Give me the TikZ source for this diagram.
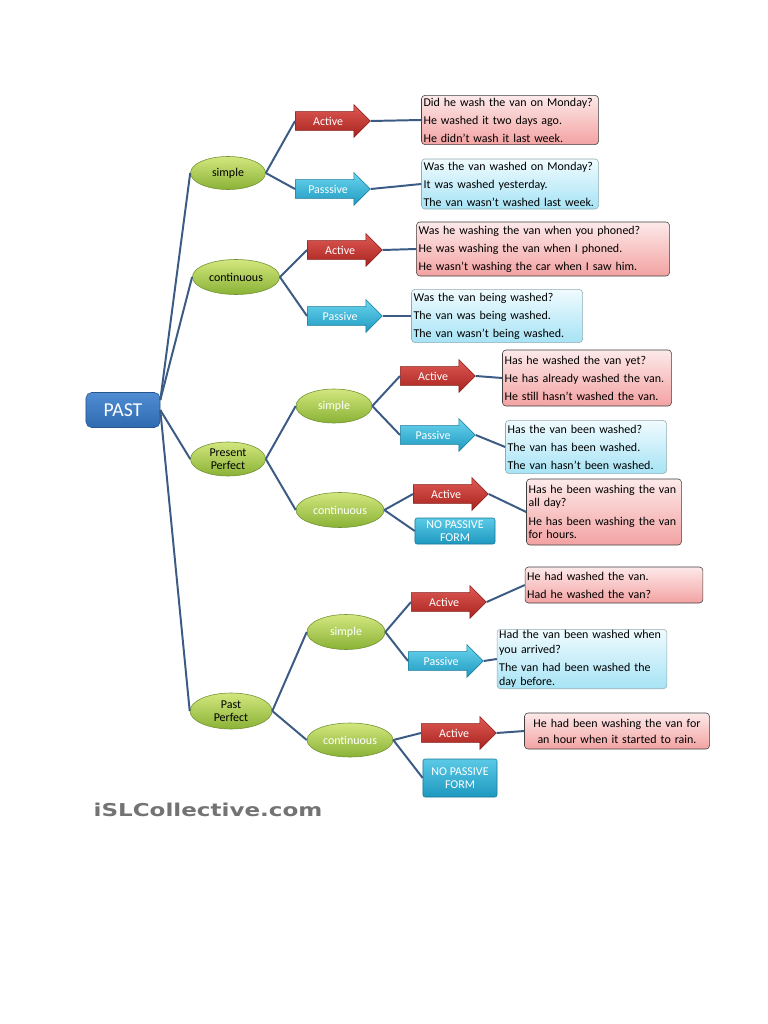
\documentclass[tikz,border=0pt]{standalone}
\usepackage{fontspec}
\setmainfont{Carlito}
\newfontfamily\markfont{DejaVu Sans}
\usetikzlibrary{shapes.geometric,shapes.arrows}

\definecolor{linkblue}{HTML}{3B5B84}
\definecolor{pasttop}{HTML}{4F8DD3}
\definecolor{pastbot}{HTML}{2F6AB0}
\definecolor{greentop}{HTML}{D2E77E}
\definecolor{greenbot}{HTML}{8AB236}
\definecolor{greenline}{HTML}{6F9130}
\definecolor{redtop}{HTML}{DF5A55}
\definecolor{redbot}{HTML}{A8221E}
\definecolor{bluetop}{HTML}{6AD6F0}
\definecolor{bluebot}{HTML}{1E98BF}
\definecolor{pinktop}{HTML}{FDE9E9}
\definecolor{pinkbot}{HTML}{F3A2A2}
\definecolor{skytop}{HTML}{F0FBFE}
\definecolor{skybot}{HTML}{A6E3F5}

\tikzset{
	link/.style={draw=linkblue, line width=1.4pt},
	past/.style={rectangle, rounded corners=4pt, draw=pastbot!80!black, top color=pasttop, bottom color=pastbot,
		text=white, font=\fontsize{14}{14}\selectfont, minimum width=1.85cm, minimum height=0.875cm},
	tense/.style={ellipse, draw=greenline, top color=greentop, bottom color=greenbot, inner sep=0pt,
		align=center, font=\fontsize{8.5}{9.3}\selectfont},
	subtense/.style={tense, text=white},
	voice/.style={single arrow, single arrow head extend=5pt, minimum height=1.875cm, anchor=tail,
		inner xsep=2pt, inner ysep=3.2pt, text height=6.5pt, text depth=0pt, text=white,
		font=\fontsize{8.5}{8.5}\selectfont},
	active/.style={voice, draw=redbot!80!black, top color=redtop, bottom color=redbot},
	passive/.style={voice, draw=bluebot!80!black, top color=bluetop, bottom color=bluebot},
	nopass/.style={rectangle, rounded corners=1.5pt, draw=bluebot!80!black, top color=bluetop!80!bluebot, bottom color=bluebot,
		text=white, inner sep=0.5pt, align=center, font=\fontsize{8.5}{9.2}\selectfont},
	example/.style={rectangle, rounded corners=2.5pt, inner xsep=1.5pt, inner ysep=1pt, align=left,
		font=\fontsize{8.5}{12.8}\selectfont},
	redbox/.style={example, draw=black!75, top color=pinktop, bottom color=pinkbot},
	bluebox/.style={example, draw=skybot!60!black!70, top color=skytop, bottom color=skybot}
}

\begin{document}
\begin{tikzpicture}[x=0.025cm,y=-0.025cm]
	\useasboundingbox (0,0) rectangle (768,1024);
	\fill[white] (0,0) rectangle (768,1024);

	\node[past] (past) at (123,410) {PAST};

	\node[tense, minimum width=1.875cm, minimum height=0.825cm] (simple) at (228,173) {simple};
	\node[tense, minimum width=2.18cm, minimum height=0.875cm] (cont) at (236,277) {continuous};
	\node[tense, minimum width=1.875cm, minimum height=0.85cm] (presperf) at (228,459) {Present\\Perfect};
	\node[tense, minimum width=2.05cm, minimum height=0.9cm] (pastperf) at (231,711) {Past\\Perfect};

	\node[subtense, minimum width=1.9cm, minimum height=0.85cm] (ppsimple) at (334,406) {simple};
	\node[subtense, minimum width=2.2cm, minimum height=0.875cm] (ppcont) at (340,510) {continuous};
	\node[subtense, minimum width=1.95cm, minimum height=0.875cm] (pasimple) at (346,632) {simple};
	\node[subtense, minimum width=2.15cm, minimum height=0.85cm] (pacont) at (350,740) {continuous};

	\node[active] (act1) at (295,121) {Active};
	\node[passive] (pas1) at (295,189) {Passsive};
	\node[active] (act2) at (307,250) {Active};
	\node[passive] (pas2) at (307,316) {Passive};
	\node[active] (act3) at (400,376) {Active};
	\node[passive] (pas3) at (400,435) {Passive};
	\node[active] (act4) at (413,494) {Active};
	\node[nopass, minimum width=2cm, minimum height=0.65cm] (nop1) at (455,531) {NO PASSIVE\\FORM};
	\node[active] (act5) at (411,602) {Active};
	\node[passive] (pas5) at (408,661) {Passive};
	\node[active] (act6) at (421,733) {Active};
	\node[nopass, minimum width=1.85cm, minimum height=0.95cm] (nop2) at (460,778) {NO PASSIVE\\FORM};

	\node[redbox, text width=4.32cm, minimum height=1.23cm] (ex1) at (510,120)
		{Did he wash the van on Monday?\\He washed it two days ago.\\He didn't wash it last week.};
	\node[bluebox, text width=4.32cm, minimum height=1.25cm] (ex2) at (510,184)
		{Was the van washed on Monday?\\It was washed yesterday.\\The van wasn't washed last week.};
	\node[redbox, text width=6.22cm, minimum height=1.35cm] (ex3) at (543,249)
		{Was he washing the van when you phoned?\\He was washing the van when I phoned.\\He wasn't washing the car when I saw him.};
	\node[bluebox, text width=4.17cm, minimum height=1.33cm] (ex4) at (497,316)
		{Was the van being washed?\\The van was being washed.\\ The van wasn't being washed.};
	\node[redbox, text width=4.12cm, minimum height=1.4cm] (ex5) at (587,378)
		{Has he washed the van yet?\\He has already washed the van.\\He still hasn't washed the van.};
	\node[bluebox, text width=3.92cm, minimum height=1.33cm] (ex6) at (586,447)
		{Has the van been washed?\\The van has been washed.\\The van hasn't been washed.};
	\node[redbox, text width=3.77cm, minimum height=1.65cm, font=\fontsize{8.5}{9.3}\selectfont] (ex7) at (604,512)
		{Has he been washing the van\\all day?\\[4pt]He has been washing the van\\for hours.};
	\node[redbox, text width=4.34cm, minimum height=0.9cm] (ex8) at (614,585)
		{He had washed the van.\\Had he washed the van?};
	\node[bluebox, text width=4.14cm, minimum height=1.48cm, font=\fontsize{8.5}{10}\selectfont] (ex9) at (582,659)
		{Had the van been washed when\\you arrived?\\[3pt]The van had been washed the\\day before.};
	\node[redbox, text width=4.52cm, minimum height=0.9cm, align=center, font=\fontsize{8.5}{11.3}\selectfont] (ex10) at (617,731)
		{He had been washing the van for\\an hour when it started to rain.};

	\draw[link] (past.15) -- (simple.west);
	\draw[link] (past.15) -- (cont.west);
	\draw[link] (past.east) -- (presperf.west);
	\draw[link] (past.east) -- (pastperf.west);

	\draw[link] (simple.east) -- (act1.tail);
	\draw[link] (simple.east) -- (pas1.tail);
	\draw[link] (cont.east) -- (act2.tail);
	\draw[link] (cont.east) -- (pas2.tail);
	\draw[link] (presperf.east) -- (ppsimple.west);
	\draw[link] (presperf.east) -- (ppcont.west);
	\draw[link] (ppsimple.east) -- (act3.tail);
	\draw[link] (ppsimple.east) -- (pas3.tail);
	\draw[link] (ppcont.east) -- (act4.tail);
	\draw[link] (ppcont.east) -- (nop1.west);
	\draw[link] (pastperf.east) -- (pasimple.west);
	\draw[link] (pastperf.east) -- (pacont.west);
	\draw[link] (pasimple.east) -- (act5.tail);
	\draw[link] (pasimple.east) -- (pas5.tail);
	\draw[link] (pacont.east) -- (act6.tail);
	\draw[link] (pacont.east) -- (nop2.west);

	\draw[link] (act1.tip) -- (ex1.west);
	\draw[link] (pas1.tip) -- (ex2.west);
	\draw[link] (act2.tip) -- (ex3.west);
	\draw[link] (pas2.tip) -- (ex4.west);
	\draw[link] (act3.tip) -- (ex5.west);
	\draw[link] (pas3.tip) -- (ex6.west);
	\draw[link] (act4.tip) -- (ex7.west);
	\draw[link] (act5.tip) -- (ex8.west);
	\draw[link] (pas5.tip) -- (ex9.west);
	\draw[link] (act6.tip) -- (ex10.west);

	\node[text=black!55, font=\markfont\bfseries\fontsize{12.6}{12.6}\selectfont] (mark) at (208,810)
		{\scalebox{1.3}[1]{iSLCollective.com}};
\end{tikzpicture}
\end{document}
